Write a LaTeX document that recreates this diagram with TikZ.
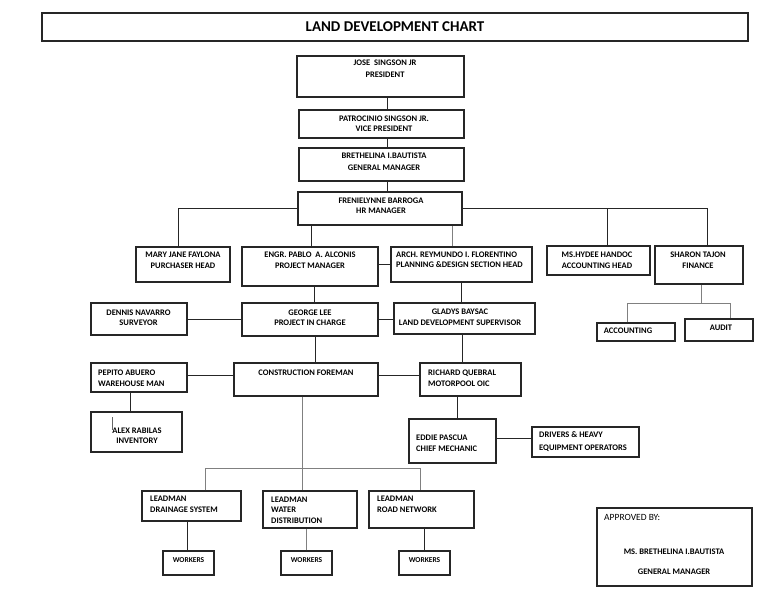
\documentclass[tikz,border=0pt]{standalone}
\usepackage{fontspec}
\setmainfont{Carlito}
\usetikzlibrary{fit}
\begin{document}
\begin{tikzpicture}[x=1pt,y=-1pt,
  box/.style={draw=black!85, line width=1.1pt, inner sep=0pt},
  conn/.style={draw=black!85, line width=0.9pt},
  connl/.style={draw=black!50, line width=0.9pt},
  lbl/.style={font=\fontsize{8.5}{10.5}\selectfont\bfseries, inner sep=0pt, align=center, text=black},
  lbll/.style={lbl, align=left, anchor=west},
  wk/.style={lbl, font=\fontsize{7.5}{9}\selectfont\bfseries}]
\useasboundingbox (0,0) rectangle (768,594);
\fill[white] (0,0) rectangle (768,594);

% boxes
\node[box, fit={(42,13)(748,41)}] (title) {};
\node[box, fit={(297,56)(464,97)}] (pres) {};
\node[box, fit={(299,110)(464,138)}] (vp) {};
\node[box, fit={(299,148)(464,181)}] (gm) {};
\node[box, fit={(298,192)(462,225)}] (hr) {};
\node[box, fit={(136,247)(230,282)}] (mary) {};
\node[box, fit={(242,247)(378,286)}] (pablo) {};
\node[box, fit={(391,247)(532,282)}] (arch) {};
\node[box, fit={(547,246)(650,275)}] (hydee) {};
\node[box, fit={(655,246)(743,284)}] (sharon) {};
\node[box, fit={(91,303)(187,335)}] (dennis) {};
\node[box, fit={(242,303)(378,336)}] (george) {};
\node[box, fit={(394,303)(535,334)}] (gladys) {};
\node[box, fit={(597,323)(675,341)}] (acct) {};
\node[box, fit={(685,319)(753,341)}] (audit) {};
\node[box, fit={(91,363)(187,392)}] (pepito) {};
\node[box, fit={(234,363)(378,396)}] (cf) {};
\node[box, fit={(420,363)(521,396)}] (richard) {};
\node[box, fit={(91,412)(182,452)}] (alex) {};
\node[box, fit={(409,419)(496,463)}] (eddie) {};
\node[box, fit={(532,427)(639,457)}] (drivers) {};
\node[box, fit={(142,491)(241,521)}] (ld) {};
\node[box, fit={(263,491)(357,528)}] (lw) {};
\node[box, fit={(369,491)(474,528)}] (lr) {};
\node[box, fit={(163,551)(214,575)}] (w1) {};
\node[box, fit={(281,551)(332,575)}] (w2) {};
\node[box, fit={(399,551)(450,575)}] (w3) {};
\node[box, fit={(597,508)(752,586)}] (appr) {};

% texts
\node[lbl, font=\fontsize{15}{18}\selectfont\bfseries] (tTitle) at (395,27) {LAND DEVELOPMENT CHART};
\node[lbl] (tPres) at (385,69) {JOSE\ \ SINGSON JR\\[1.5pt]PRESIDENT};
\node[lbl] (tVp) at (384,123.5) {PATROCINIO SINGSON JR.\\VICE PRESIDENT};
\node[lbl] (tGm) at (384,162) {BRETHELINA I.BAUTISTA\\[1.5pt]GENERAL MANAGER};
\node[lbl] (tHr) at (381,205.5) {FRENIELYNNE BARROGA\\HR MANAGER};
\node[lbl] (tMary) at (183,260) {MARY JANE FAYLONA\\PURCHASER HEAD};
\node[lbl] (tPablo) at (310,260) {ENGR. PABLO\ \ A. ALCONIS\\PROJECT MANAGER};
\node[lbll] (tArch) at (396,259.5) {ARCH. REYMUNDO I. FLORENTINO\\PLANNING \&DESIGN SECTION HEAD};
\node[lbl] (tHydee) at (597,260) {MS.HYDEE HANDOC\\ACCOUNTING HEAD};
\node[lbl] (tSharon) at (698,260) {SHARON TAJON\\FINANCE};
\node[lbl] (tDennis) at (138.5,317.5) {DENNIS NAVARRO\\SURVEYOR};
\node[lbl] (tGeorge) at (310,317.5) {GEORGE LEE\\PROJECT IN CHARGE};
\node[lbl] (tGladys) at (460,317) {GLADYS BAYSAC\\LAND DEVELOPMENT SUPERVISOR};
\node[lbl] (tAcct) at (628,331) {ACCOUNTING};
\node[lbl] (tAudit) at (721,328) {AUDIT};
\node[lbll] (tPepito) at (98,378) {PEPITO ABUERO\\WAREHOUSE MAN};
\node[lbl] (tCf) at (306,373) {CONSTRUCTION FOREMAN};
\node[lbll] (tRichard) at (428,378) {RICHARD QUEBRAL\\MOTORPOOL OIC};
\node[lbl] (tAlex) at (137,435.5) {ALEX RABILAS\\INVENTORY};
\node[lbll] (tEddie) at (416,443) {EDDIE PASCUA\\CHIEF MECHANIC};
\node[lbll] (tDrivers) at (539,441.5) {DRIVERS \& HEAVY\\[2.2pt]EQUIPMENT OPERATORS};
\node[lbll] (tLd) at (150,504.5) {LEADMAN\\DRAINAGE SYSTEM};
\node[lbll] (tLw) at (271,510) {LEADMAN\\WATER\\DISTRIBUTION};
\node[lbll] (tLr) at (377,504.5) {LEADMAN\\ROAD NETWORK};
\node[wk] (tW1) at (188.5,560) {WORKERS};
\node[wk] (tW2) at (306.5,560) {WORKERS};
\node[wk] (tW3) at (424.5,560) {WORKERS};
\node[lbl, font=\fontsize{9.5}{11}\selectfont, anchor=west] (tAppr) at (604,517) {APPROVED BY:};
\node[lbl] (tMs) at (674,552) {MS. BRETHELINA I.BAUTISTA};
\node[lbl] (tGm2) at (674,572) {GENERAL MANAGER};
\draw[draw=black!60, line width=0.6pt] (112,417) -- (112,430);

% connectors
\draw[conn] ([xshift=6.5pt]pres.south) -- ([xshift=6.5pt]pres.south |- vp.north);
\draw[conn] ([xshift=5.5pt]vp.south) -- ([xshift=5.5pt]vp.south |- gm.north);
\draw[conn] ([xshift=5.5pt]gm.south) -- ([xshift=5.5pt]gm.south |- hr.north);
\draw[conn] (hr.west) -| ([xshift=-5pt]mary.north);
\draw[conn] (hr.east) -| ([xshift=8pt]sharon.north);
\draw[conn] ([xshift=8.5pt]hydee.north) -- ([xshift=8.5pt]hydee.north |- hr.east);
\draw[conn] ([xshift=1pt]pablo.north) -- ([xshift=1pt]pablo.north |- hr.south);
\draw[connl] ([xshift=-9.5pt]arch.north) -- ([xshift=-9.5pt]arch.north |- hr.south);
\draw[conn] (arch.west) -- (arch.west -| pablo.east);
\draw[conn] ([xshift=4pt]pablo.south) -- ([xshift=4pt]pablo.south |- george.north);
\draw[conn] (dennis.east) -- (dennis.east -| george.west);
\draw[conn] (george.east) -- (george.east -| gladys.west);
\draw[conn] (arch.south) -- (arch.south |- gladys.north);
\draw[connl] ([xshift=2pt]sharon.south) -- ++(0,19) coordinate (sj);
\draw[connl] ([xshift=-9pt]acct.north) |- (sj) -| ([xshift=11pt]audit.north);
\draw[conn] ([xshift=5pt]george.south) -- ([xshift=5pt]george.south |- cf.north);
\draw[conn] ([yshift=2.5pt]pepito.east) -- ([yshift=2.5pt]pepito.east -| cf.west);
\draw[conn] ([yshift=4.5pt]cf.east) -- ([yshift=4.5pt]cf.east -| richard.west);
\draw[conn] ([xshift=-8.5pt]richard.north) -- ([xshift=-8.5pt]richard.north |- gladys.south);
\draw[conn] ([xshift=-9pt]pepito.south) -- ([xshift=-9pt]pepito.south |- alex.north);
\draw[conn] ([xshift=4.5pt]eddie.north) -- ([xshift=4.5pt]eddie.north |- richard.south);
\draw[conn] ([yshift=3pt]eddie.east) -- ([yshift=3pt]eddie.east -| drivers.west);
\draw[connl] ([xshift=-4pt]cf.south) -- ([xshift=-8pt]lw.north);
\draw[connl] ([xshift=13.5pt]ld.north) -- ++(0,-22) -| ([xshift=-1.5pt]lr.north);
\draw[conn] ([xshift=-1.5pt]w1.north) -- ([xshift=-1.5pt]w1.north |- ld.south);
\draw[connl] (w2.north) -- (w2.north |- lw.south);
\draw[conn] (w3.north) -- (w3.north |- lr.south);
\end{tikzpicture}
\end{document}
